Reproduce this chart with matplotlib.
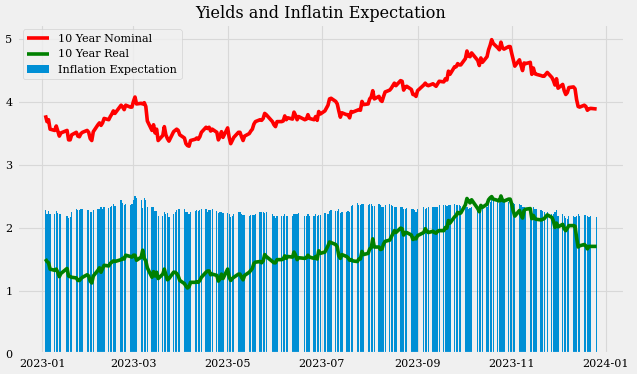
import pandas as pd
import matplotlib.pyplot as plt

# 10 year nominal (DGS10) and real (DFII10) yields, business days 2023-01-03 .. 2023-12-26
nominal_jan = [3.79, 3.69, 3.72, 3.57, 3.55, 3.62, 3.54, 3.46, 3.51, 3.55, 3.40, 3.40, 3.48, 3.52, 3.46, 3.45, 3.50, 3.52, 3.55, 3.52]
nominal_feb = [3.42, 3.39, 3.53, 3.64, 3.67, 3.63, 3.67, 3.74, 3.72, 3.77, 3.81, 3.86, 3.82, 3.95, 3.92, 3.88, 3.95, 3.92, 3.92]
nominal_mar = [4.01, 4.08, 3.97, 3.98, 3.97, 3.99, 3.93, 3.70, 3.55, 3.64, 3.51, 3.57, 3.39, 3.47, 3.61, 3.48, 3.42, 3.38, 3.53, 3.55, 3.57, 3.55, 3.48]
nominal_apr = [3.43, 3.34, 3.31, 3.30, 3.39, 3.41, 3.43, 3.41, 3.45, 3.52, 3.60, 3.58, 3.60, 3.54, 3.57, 3.52, 3.40, 3.45, 3.53, 3.44]
nominal_may = [3.59, 3.44, 3.34, 3.39, 3.44, 3.52, 3.52, 3.45, 3.39, 3.46, 3.50, 3.54, 3.57, 3.65, 3.69, 3.72, 3.71, 3.74, 3.82, 3.80, 3.69, 3.64]
nominal_jun = [3.61, 3.69, 3.69, 3.70, 3.78, 3.72, 3.75, 3.73, 3.84, 3.79, 3.72, 3.77, 3.72, 3.73, 3.80, 3.74, 3.72, 3.77, 3.71, 3.85, 3.81]
nominal_jul = [3.86, 3.95, 4.05, 4.06, 4.01, 3.97, 3.86, 3.76, 3.83, 3.80, 3.80, 3.75, 3.85, 3.84, 3.87, 3.88, 3.87, 4.01, 3.96, 3.97]
nominal_aug = [4.05, 4.08, 4.18, 4.05, 4.09, 4.03, 4.01, 4.09, 4.16, 4.19, 4.22, 4.26, 4.30, 4.26, 4.34, 4.33, 4.19, 4.24, 4.25, 4.20, 4.12, 4.12, 4.09]
nominal_sep = [4.18, 4.27, 4.30, 4.27, 4.26, 4.29, 4.27, 4.25, 4.29, 4.33, 4.32, 4.37, 4.35, 4.49, 4.44, 4.56, 4.56, 4.61, 4.59, 4.59]
nominal_oct = [4.69, 4.81, 4.73, 4.72, 4.78, 4.66, 4.58, 4.70, 4.63, 4.72, 4.83, 4.90, 4.99, 4.93, 4.86, 4.83, 4.95, 4.86, 4.84, 4.88, 4.88]
nominal_nov = [4.77, 4.67, 4.57, 4.67, 4.58, 4.50, 4.62, 4.61, 4.63, 4.44, 4.54, 4.45, 4.44, 4.42, 4.41, 4.41, 4.47, 4.39, 4.34, 4.27, 4.37]
nominal_dec = [4.22, 4.28, 4.18, 4.12, 4.15, 4.23, 4.24, 4.21, 4.04, 3.93, 3.92, 3.95, 3.93, 3.87, 3.89, 3.90, 3.89]

real_jan = [1.51, 1.47, 1.45, 1.35, 1.33, 1.35, 1.30, 1.23, 1.28, 1.36, 1.24, 1.23, 1.22, 1.21, 1.17, 1.17, 1.20, 1.22, 1.26, 1.24]
real_feb = [1.16, 1.13, 1.24, 1.33, 1.37, 1.30, 1.36, 1.41, 1.40, 1.44, 1.46, 1.48, 1.47, 1.50, 1.52, 1.51, 1.57, 1.55, 1.54]
real_mar = [1.57, 1.57, 1.49, 1.54, 1.65, 1.52, 1.48, 1.37, 1.22, 1.31, 1.24, 1.30, 1.20, 1.27, 1.35, 1.26, 1.18, 1.20, 1.30, 1.30, 1.28, 1.24, 1.17]
real_apr = [1.12, 1.08, 1.05, 1.07, 1.14, 1.14, 1.15, 1.14, 1.17, 1.22, 1.30, 1.32, 1.32, 1.26, 1.27, 1.25, 1.16, 1.19, 1.27, 1.20]
real_may = [1.35, 1.22, 1.17, 1.20, 1.22, 1.27, 1.27, 1.22, 1.18, 1.25, 1.30, 1.33, 1.36, 1.44, 1.46, 1.47, 1.45, 1.48, 1.58, 1.55, 1.47, 1.45]
real_jun = [1.45, 1.50, 1.50, 1.51, 1.56, 1.52, 1.55, 1.54, 1.62, 1.57, 1.50, 1.53, 1.52, 1.53, 1.57, 1.54, 1.52, 1.55, 1.51, 1.64, 1.60]
real_jul = [1.62, 1.72, 1.78, 1.77, 1.74, 1.70, 1.56, 1.52, 1.58, 1.55, 1.53, 1.49, 1.50, 1.48, 1.47, 1.51, 1.51, 1.63, 1.58, 1.60]
real_aug = [1.67, 1.69, 1.83, 1.70, 1.70, 1.66, 1.67, 1.75, 1.79, 1.81, 1.86, 1.91, 1.96, 1.93, 2.00, 1.99, 1.89, 1.93, 1.93, 1.89, 1.82, 1.84, 1.83]
real_sep = [1.88, 1.93, 1.99, 1.95, 1.93, 1.95, 1.93, 1.92, 1.95, 1.96, 1.96, 2.01, 2.00, 2.12, 2.08, 2.18, 2.20, 2.25, 2.23, 2.24]
real_oct = [2.37, 2.47, 2.43, 2.40, 2.45, 2.31, 2.26, 2.36, 2.33, 2.38, 2.45, 2.48, 2.50, 2.46, 2.44, 2.43, 2.51, 2.44, 2.43, 2.46, 2.46]
real_nov = [2.38, 2.27, 2.19, 2.28, 2.21, 2.16, 2.28, 2.30, 2.31, 2.15, 2.20, 2.15, 2.14, 2.13, 2.14, 2.15, 2.21, 2.17, 2.11, 2.01, 2.08]
real_dec = [2.02, 2.06, 1.99, 1.96, 2.00, 2.04, 2.04, 2.03, 1.85, 1.70, 1.72, 1.74, 1.72, 1.67, 1.71, 1.71, 1.71]

holidays = ['2023-01-16', '2023-02-20', '2023-05-29', '2023-06-19', '2023-07-04',
            '2023-09-04', '2023-10-09', '2023-11-23', '2023-12-25']

dates = pd.bdate_range('2023-01-03', '2023-12-26').drop(pd.to_datetime(holidays))
nominal = (nominal_jan + nominal_feb + nominal_mar + nominal_apr + nominal_may + nominal_jun
           + nominal_jul + nominal_aug + nominal_sep + nominal_oct + nominal_nov + nominal_dec)
real = (real_jan + real_feb + real_mar + real_apr + real_may + real_jun
        + real_jul + real_aug + real_sep + real_oct + real_nov + real_dec)

df = pd.DataFrame({'nominal': nominal, 'real': real}, index=dates)
df['inflation'] = df['nominal'] - df['real']

plt.style.use('fivethirtyeight')
plt.rcParams['font.family'] = 'serif'
plt.rcParams['grid.color'] = '#d8d8d8'
plt.rcParams['grid.linewidth'] = 0.8

fig, ax = plt.subplots(figsize=(6.37, 3.74), dpi=100)
fig.subplots_adjust(left=0.027, right=0.981, top=0.936, bottom=0.053)
ax.bar(df.index, df['inflation'], label='Inflation Expectation', color='#008fd5')
ax.plot(df.index, df['nominal'], label='10 Year Nominal', color='red', linewidth=2.6)
ax.plot(df.index, df['real'], label='10 Year Real', color='green', linewidth=2.6)
ax.set_title('Yields and Inflatin Expectation', fontsize=11.5, pad=4)
ax.tick_params(labelsize=8)
ax.legend(loc='upper left', fontsize=8)
fig.savefig('out.png', dpi=100)
